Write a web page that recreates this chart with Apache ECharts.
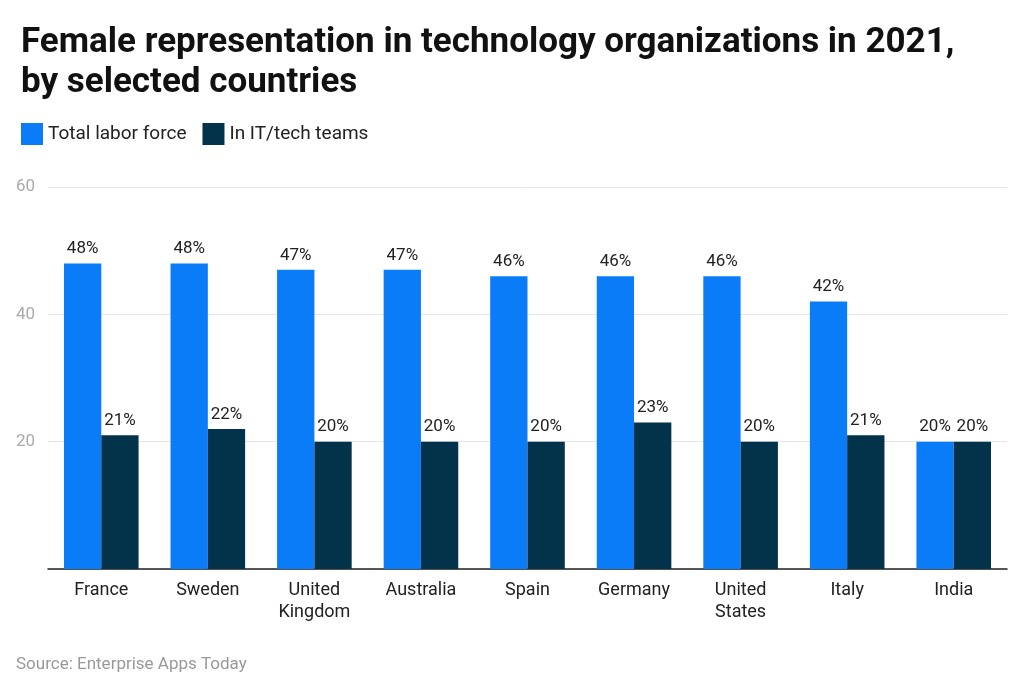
<!DOCTYPE html>
<html><head><meta charset="utf-8">
<script src="https://cdn.jsdelivr.net/npm/echarts@6/dist/echarts.min.js"></script>
<style>body{margin:0}#c{width:1024px;height:694px}</style></head>
<body><div id="c"></div>
<script>
const categories=['France','Sweden','United\nKingdom','Australia','Spain','Germany','United\nStates','Italy','India'];
const totalLabor=[48,48,47,47,46,46,46,42,20];
const itTeams=[21,22,20,20,20,23,20,21,20];
const yTicks={min:0,max:60,interval:20};
const chart=echarts.init(document.getElementById('c'));
const lbl={show:true,position:'top',formatter:'{c}%',color:'#222',fontSize:17,fontFamily:'Roboto',distance:6};
chart.setOption({
 animation:false,
 title:{text:'Female representation in technology organizations in 2021,\nby selected countries',left:16,top:18,textStyle:{fontFamily:'Roboto',fontWeight:'bold',fontSize:35,color:'#111',lineHeight:40}},
 legend:{left:16,top:118,itemWidth:22,itemHeight:22,itemGap:16,icon:'rect',textStyle:{fontFamily:'Roboto',fontSize:19,color:'#222'},data:['Total labor force','In IT/tech teams']},
 graphic:[{type:'text',left:16,top:656,style:{text:'Source: Enterprise Apps Today',fill:'#999',font:'17px Roboto'}}],
 grid:{left:48,right:17,top:187,bottom:125},
 xAxis:{type:'category',data:categories,axisTick:{show:false},axisLine:{lineStyle:{color:'#222',width:1.5}},axisLabel:{color:'#222',fontSize:18,fontFamily:'Roboto',lineHeight:22,margin:10}},
 yAxis:{type:'value',min:yTicks.min,max:yTicks.max,interval:yTicks.interval,axisLabel:{color:'#aaa',fontSize:17,fontFamily:'Roboto',margin:8,formatter:v=>v===0?'':v,align:'left',padding:[0,0,0,-24]},splitLine:{lineStyle:{color:'#e6e6e6'}}},
 series:[
  {name:'Total labor force',type:'bar',data:totalLabor,itemStyle:{color:'#0a7cf8'},barGap:'0%',barCategoryGap:'30%',label:lbl},
  {name:'In IT/tech teams',type:'bar',data:itTeams,itemStyle:{color:'#02334b'},label:lbl}
 ]
});
</script></body></html>
